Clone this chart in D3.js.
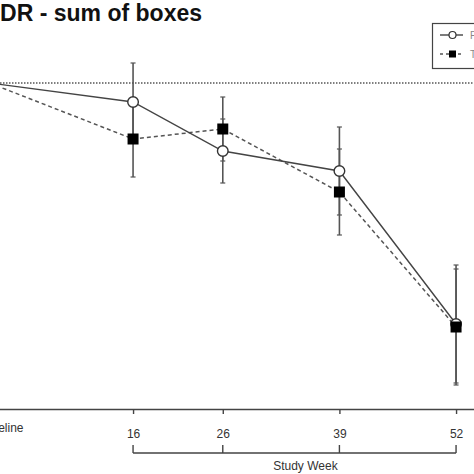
<!DOCTYPE html>
<html lang="en">
	<head>
		<meta charset="utf-8">
		<title>CDR - sum of boxes</title>
		<script type="text/javascript" src="https://cdn.jsdelivr.net/npm/d3@7"></script>
		<style type="text/css">
			body {
				margin: 0;
				background: #fff;
			}
			text {
				font-family: "Liberation Sans", Arial, sans-serif;
			}
		</style>
	</head>
	<body>
		<script type="text/javascript">

			//Study weeks (0 = baseline)
			var weeks = [0, 16, 26, 39, 52];
			var tickWeeks = [16, 26, 39, 52];
			var baselineLabel = "Baseline";
			var axisTitle = "Study Week";

			//Series names (legend)
			var seriesNames = ["Placebo", "Treatment"];

			//Mean change from baseline, series 1 (open circles)
			var meanA = [0, -0.095, -0.34, -0.44, -1.205];
			var errA = [0, 0.195, 0.16, 0.22, 0.295];

			//Mean change from baseline, series 2 (filled squares)
			var meanB = [0, -0.28, -0.23, -0.545, -1.22];
			var errB = [0, 0.19, 0.16, 0.215, 0.29];

			//Width and height of SVG canvas
			var w = 474;
			var h = 474;

			//Create the SVG element for the canvas
			var svg = d3.select("body")
						.append("svg")
						.attr("width", w)
						.attr("height", h);

			//Scales
			var xScale = d3.scaleLinear()
						.domain([0, 54])
						.range([-10.5, 474]);

			var yScale = d3.scaleLinear()
						.domain([0, -1])
						.range([83, 283]);

			var axisY = 409;

			//Build point arrays
			var dataA = weeks.map(function(d, i) { return {week: d, mean: meanA[i], err: errA[i]}; });
			var dataB = weeks.map(function(d, i) { return {week: d, mean: meanB[i], err: errB[i]}; });

			//Title (left part is cut off like the source)
			svg.append("text")
				.attr("x", -16.5)
				.attr("y", 21)
				.attr("font-size", "23px")
				.attr("font-weight", "bold")
				.attr("fill", "#111")
				.text("CDR - sum of boxes");

			//Reference line at zero
			svg.append("line")
				.attr("x1", 0)
				.attr("x2", w)
				.attr("y1", yScale(0))
				.attr("y2", yScale(0))
				.attr("stroke", "#555")
				.attr("stroke-width", 1.3)
				.attr("stroke-dasharray", "1.5,1.5");

			//X axis
			var xAxis = d3.axisBottom(xScale)
				.tickValues(tickWeeks)
				.tickSize(5)
				.tickSizeOuter(0)
				.tickPadding(15);

			var xAxisAdd = svg.append("g")
				.attr("class", "axis")
				.attr("transform", "translate(0," + axisY + ")")
				.call(xAxis);

			xAxisAdd.select(".domain").attr("stroke", "#444").attr("stroke-width", 1.4);
			xAxisAdd.selectAll(".tick line").attr("stroke", "#444").attr("stroke-width", 1.4);
			xAxisAdd.selectAll(".tick text")
				.attr("font-size", "12px")
				.attr("fill", "#333")
				.attr("font-family", "Liberation Sans, Arial, sans-serif");

			//Baseline label
			svg.append("text")
				.attr("x", xScale(0) + 34)
				.attr("y", axisY + 23)
				.attr("text-anchor", "end")
				.attr("font-size", "12px")
				.attr("fill", "#333")
				.text(baselineLabel);

			//Study week bracket
			var bracketY = 453;
			var bracket = d3.path();
			bracket.moveTo(xScale(tickWeeks[0]), bracketY);
			bracket.lineTo(xScale(tickWeeks[tickWeeks.length - 1]), bracketY);
			tickWeeks.forEach(function(d) {
				bracket.moveTo(xScale(d), bracketY);
				bracket.lineTo(xScale(d), bracketY - 8);
			});
			svg.append("path")
				.attr("d", bracket.toString())
				.attr("fill", "none")
				.attr("stroke", "#444")
				.attr("stroke-width", 1.4);

			svg.append("text")
				.attr("x", (xScale(26) + xScale(52)) / 2 - 34)
				.attr("y", bracketY + 17)
				.attr("text-anchor", "middle")
				.attr("font-size", "12px")
				.attr("fill", "#333")
				.text(axisTitle);

			//Error bars
			function drawErrors(data, capW) {
				var g = svg.append("g");
				data.filter(function(d) { return d.err > 0; }).forEach(function(d) {
					var x = xScale(d.week);
					var y1 = yScale(d.mean + d.err);
					var y2 = yScale(d.mean - d.err);
					g.append("line")
						.attr("x1", x).attr("x2", x)
						.attr("y1", y1).attr("y2", y2)
						.attr("stroke", "#555").attr("stroke-width", 1.6);
					[y1, y2].forEach(function(y) {
						g.append("line")
							.attr("x1", x - capW / 2).attr("x2", x + capW / 2)
							.attr("y1", y).attr("y2", y)
							.attr("stroke", "#555").attr("stroke-width", 1.2);
					});
				});
			}
			drawErrors(dataA, 5);
			drawErrors(dataB, 5);

			//Line generator
			var line = d3.line()
				.x(function(d) { return xScale(d.week); })
				.y(function(d) { return yScale(d.mean); });

			svg.append("path")
				.datum(dataB)
				.attr("fill", "none")
				.attr("stroke", "#555")
				.attr("stroke-width", 1.5)
				.attr("stroke-dasharray", "4,3")
				.attr("d", line);

			svg.append("path")
				.datum(dataA)
				.attr("fill", "none")
				.attr("stroke", "#444")
				.attr("stroke-width", 1.4)
				.attr("d", line);

			//Markers
			svg.selectAll("circle.ptA")
				.data(dataA.slice(1))
				.enter()
				.append("circle")
				.attr("class", "ptA")
				.attr("cx", function(d) { return xScale(d.week); })
				.attr("cy", function(d) { return yScale(d.mean); })
				.attr("r", 5.3)
				.attr("fill", "#fff")
				.attr("stroke", "#333")
				.attr("stroke-width", 1.4);

			svg.selectAll("rect.ptB")
				.data(dataB.slice(1))
				.enter()
				.append("rect")
				.attr("class", "ptB")
				.attr("x", function(d) { return xScale(d.week) - 5.5; })
				.attr("y", function(d) { return yScale(d.mean) - 5.5; })
				.attr("width", 11)
				.attr("height", 11)
				.attr("fill", "#000");

			//Legend
			var legend = svg.append("g")
				.attr("transform", "translate(432,23)");

			legend.append("rect")
				.attr("x", 0.5)
				.attr("y", 0.5)
				.attr("width", 80)
				.attr("height", 45)
				.attr("fill", "#fff")
				.attr("stroke", "#444")
				.attr("stroke-width", 1.2);

			legend.append("line")
				.attr("x1", 8).attr("x2", 31)
				.attr("y1", 12).attr("y2", 12)
				.attr("stroke", "#444").attr("stroke-width", 1.4);
			legend.append("circle")
				.attr("cx", 20.5).attr("cy", 12).attr("r", 3.5)
				.attr("fill", "#fff").attr("stroke", "#333").attr("stroke-width", 1.2);

			legend.append("line")
				.attr("x1", 8).attr("x2", 31)
				.attr("y1", 31).attr("y2", 31)
				.attr("stroke", "#555").attr("stroke-width", 1.4)
				.attr("stroke-dasharray", "3,3");
			legend.append("rect")
				.attr("x", 17).attr("y", 27.5).attr("width", 7).attr("height", 7)
				.attr("fill", "#000");

			legend.selectAll("text")
				.data(seriesNames)
				.enter()
				.append("text")
				.attr("x", 38)
				.attr("y", function(d, i) { return 16 + i * 19; })
				.attr("font-size", "10px")
				.attr("fill", "#888")
				.text(function(d) { return d; });

		</script>
	</body>
</html>
